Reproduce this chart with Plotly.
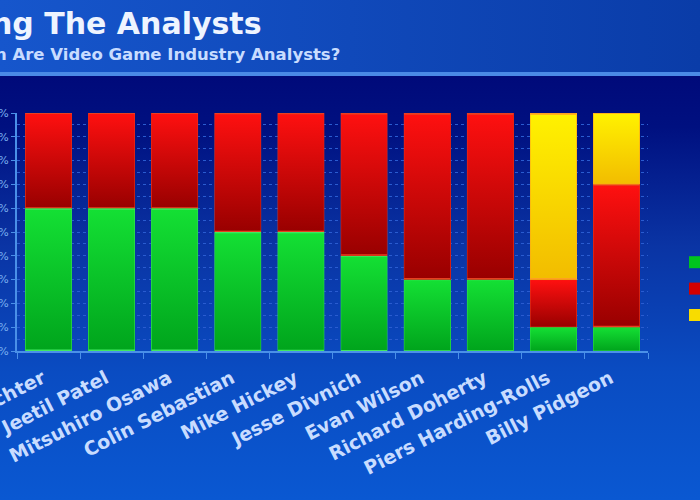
import base64
import plotly.graph_objects as go

analysts = ["Michael Pachter", "Jeetil Patel", "Mitsuhiro Osawa", "Colin Sebastian",
            "Mike Hickey", "Jesse Divnich", "Evan Wilson", "Richard Doherty",
            "Piers Harding-Rolls", "Billy Pidgeon"]
correct = [0.6, 0.6, 0.6, 0.5, 0.5, 0.4, 0.3, 0.3, 0.1, 0.1]
wrong = [0.4, 0.4, 0.4, 0.5, 0.5, 0.6, 0.7, 0.7, 0.2, 0.6]
pending = [0.0, 0.0, 0.0, 0.0, 0.0, 0.0, 0.0, 0.0, 0.7, 0.3]

W, H = 700, 500
ML, MR, MT, MB = 17, 52, 113, 149
PW, PH = W - ML - MR, H - MT - MB
BARGAP = 0.26

def px_x(px):
    return (px - ML) / PW

def px_y(py):
    return (H - MB - py) / PH

def uri(svg):
    return "data:image/svg+xml;base64," + base64.b64encode(svg.encode()).decode()

bg_svg = f'''<svg xmlns="http://www.w3.org/2000/svg" width="{W}" height="{H}" viewBox="0 0 {W} {H}" preserveAspectRatio="none">
<defs>
<linearGradient id="hd" x1="0" y1="0" x2="1" y2="0">
<stop offset="0" stop-color="#1656cc"/><stop offset="1" stop-color="#0a3ca8"/></linearGradient>
<linearGradient id="bd" x1="0" y1="0" x2="0" y2="1">
<stop offset="0" stop-color="#000a7a"/><stop offset="0.12" stop-color="#001080"/>
<stop offset="0.4" stop-color="#0a34a4"/><stop offset="0.7" stop-color="#0a4cc2"/>
<stop offset="1" stop-color="#0a58d2"/></linearGradient>
</defs>
<rect x="0" y="0" width="{W}" height="73" fill="url(#hd)"/>
<rect x="0" y="76" width="{W}" height="{H-76}" fill="url(#bd)"/>
<rect x="0" y="72" width="{W}" height="4" fill="#4a8ae6"/>
</svg>'''

def seg_svg(top, bottom, edge):
    return uri(f'''<svg xmlns="http://www.w3.org/2000/svg" width="100" height="100" viewBox="0 0 100 100" preserveAspectRatio="none">
<defs><linearGradient id="g" x1="0" y1="0" x2="0" y2="1">
<stop offset="0" stop-color="{top}"/><stop offset="1" stop-color="{bottom}"/></linearGradient></defs>
<rect x="0" y="0" width="100" height="100" fill="url(#g)"/>
<rect x="0" y="0" width="100" height="100" fill="none" stroke="{edge}" stroke-width="2" vector-effect="non-scaling-stroke"/>
</svg>''')

series = [
    ("Correct", correct, "#00c41e", seg_svg("#14e034", "#00a41c", "#40e860")),
    ("Incorrect", wrong, "#d20000", seg_svg("#ff1010", "#980000", "#e84020")),
    ("Pending", pending, "#f8dc00", seg_svg("#fff200", "#f2bc00", "#ffa020")),
]

FONT = "DejaVu Sans, Arial, sans-serif"

fig = go.Figure()
images = [dict(source=uri(bg_svg), xref="paper", yref="paper", x=px_x(0), y=px_y(0),
               sizex=W / PW, sizey=H / PH, xanchor="left", yanchor="top",
               sizing="stretch", layer="below")]
base = [0.0] * len(analysts)
for name, vals, col, grad in series:
    fig.add_bar(x=analysts, y=vals, name=name,
                marker=dict(color=col, line=dict(color=col, width=0)))
    for i, v in enumerate(vals):
        if v > 0:
            images.append(dict(source=grad, xref="x", yref="y",
                               x=i - (1 - BARGAP) / 2, y=base[i] + v,
                               sizex=1 - BARGAP, sizey=v,
                               xanchor="left", yanchor="top",
                               sizing="stretch", layer="above"))
        base[i] += v

fig.update_layout(
    width=W, height=H,
    margin=dict(l=ML, r=MR, t=MT, b=MB, autoexpand=False),
    barmode="stack", bargap=BARGAP,
    paper_bgcolor="#0a40b0", plot_bgcolor="rgba(0,0,0,0)",
    font=dict(family=FONT, color="#c8dcff"),
    showlegend=True,
    legend=dict(x=px_x(675), y=px_y(244), xanchor="left", yanchor="top",
                traceorder="normal", font=dict(size=18, color="#c8dcff"),
                bgcolor="rgba(0,0,0,0)"),
    images=images,
    xaxis=dict(tickangle=-27, tickfont=dict(size=19, color="#c8dcff", weight="bold"),
               ticklabelstandoff=7, ticklabelshift=-6,
               showline=True, linecolor="#4a90e8", linewidth=2,
               ticks="outside", tickson="boundaries", ticklen=6, tickcolor="#4a90e8",
               showgrid=False),
    yaxis=dict(range=[0, 1], dtick=0.1, tickformat=".0%",
               tickfont=dict(size=11, color="#7ab0f0"),
               showline=True, linecolor="#4a90e8", linewidth=2,
               ticks="outside", ticklen=4, tickcolor="#4a90e8",
               showgrid=True, gridcolor="#2a5cd0", griddash="dot", gridwidth=1,
               minor=dict(dtick=0.05, showgrid=True, gridcolor="#2a5cd0", griddash="dot"),
               zeroline=False),
    annotations=[
        dict(text="<b>Rating The Analysts</b>", xref="paper", yref="paper",
             x=px_x(264), y=px_y(23), xanchor="right", yanchor="middle",
             showarrow=False, font=dict(size=30, color="#eef4ff")),
        dict(text="<b>How Spot-On Are Video Game Industry Analysts?</b>", xref="paper", yref="paper",
             x=px_x(342), y=px_y(55), xanchor="right", yanchor="middle",
             showarrow=False, font=dict(size=16.5, color="#c8dcff")),
    ],
)

fig.write_html("out.html", config={"displayModeBar": False},
               post_script="document.body.style.margin='0';")
